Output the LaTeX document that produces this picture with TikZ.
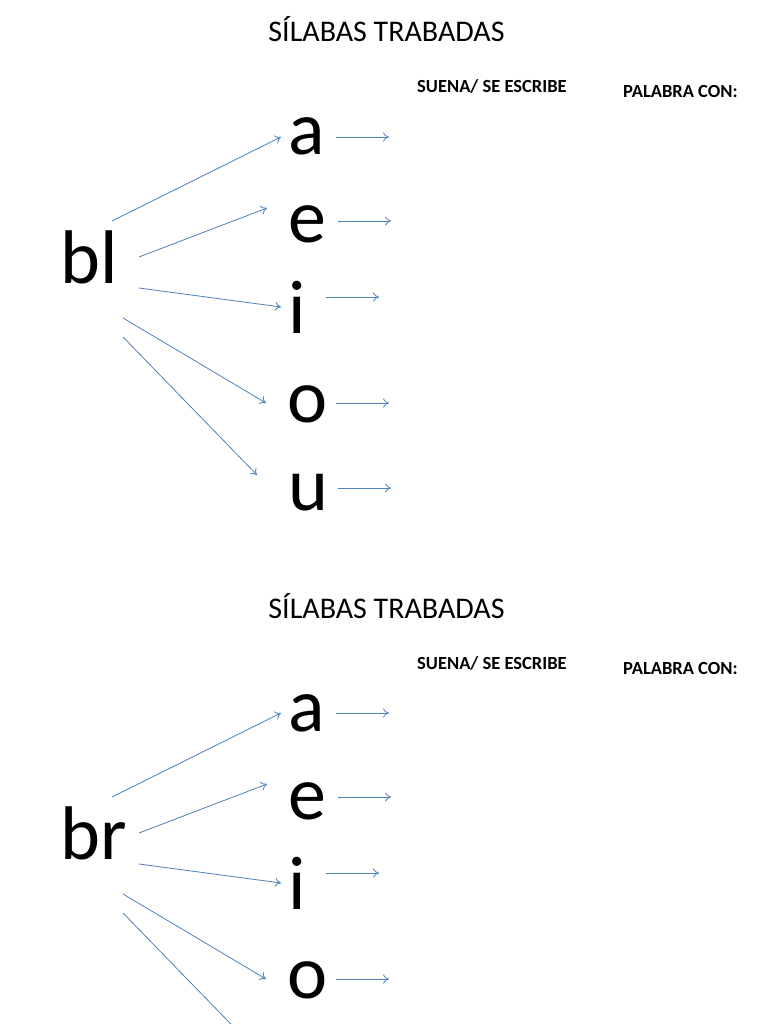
\documentclass[tikz,border=0pt]{standalone}
\usepackage{fontspec}
\setmainfont{Carlito}
\usetikzlibrary{arrows.meta}
\definecolor{arrblue}{RGB}{79,129,189}
\tikzset{
  ttl/.style={inner sep=0pt, anchor=base, font=\fontsize{30}{34}\selectfont},
  hdr/.style={inner sep=0pt, anchor=base west, font=\bfseries\fontsize{18.5}{22}\selectfont},
  big/.style={inner sep=0pt, anchor=base, font=\fontsize{76}{80}\selectfont},
  arr/.style={draw=arrblue, line width=0.8pt, -{To[length=6pt,width=9pt]}}
}
\newcommand\syllhead[2]{% #1 prefix, #2 consonant group
  \node[ttl] (#1t) at (386.5,42) {SÍLABAS TRABADAS};
  \node[hdr] (#1s) at (417,93) {SUENA/ SE ESCRIBE};
  \node[hdr] (#1p) at (623,98) {PALABRA CON:};
  \node[big, anchor=base west] (#1c) at (60,283) {#2};
  \node[big] (#1a) at (307,155) {a};
  \node[big] (#1e) at (307,243) {e};
  \node[big] (#1i) at (297,333) {i};
  \node[big] (#1o) at (308,422) {o};
  \draw[arr] ([shift={(52pt,62pt)}]#1c.base west) -- ([shift={(-26pt,18pt)}]#1a.base);
  \draw[arr] ([shift={(79pt,26pt)}]#1c.base west) -- ([shift={(-40pt,35pt)}]#1e.base);
  \draw[arr] ([shift={(79pt,-5pt)}]#1c.base west) -- ([shift={(-16pt,26pt)}]#1i.base);
  \draw[arr] ([shift={(63pt,-35pt)}]#1c.base west) -- ([shift={(-42pt,19pt)}]#1o.base);
  \draw[arr] ([shift={(29pt,18pt)}]#1a.base) -- ++(53pt,0pt);
  \draw[arr] ([shift={(31pt,22pt)}]#1e.base) -- ++(53pt,0pt);
  \draw[arr] ([shift={(29pt,36pt)}]#1i.base) -- ++(53pt,0pt);
  \draw[arr] ([shift={(28pt,19pt)}]#1o.base) -- ++(53pt,0pt);
}
\begin{document}
\begin{tikzpicture}[x=1pt,y=-1pt]
  \useasboundingbox (0,0) rectangle (768,1024);
  \fill[white] (0,0) rectangle (768,1024);
  \clip (0,0) rectangle (768,1024);
  % first block
  \syllhead{A}{bl}
  \node[big] (Au) at (308,510) {u};
  \draw[arr] ([shift={(63pt,-54pt)}]Ac.base west) -- ([shift={(-51pt,35pt)}]Au.base);
  \draw[arr] ([shift={(30pt,22pt)}]Au.base) -- ++(53pt,0pt);
  % second block
  \begin{scope}[yshift=-576pt]
    \syllhead{B}{br}
    \coordinate (Bu) at (308,510);
    \draw[arr] ([shift={(63pt,-54pt)}]Bc.base west) -- ([shift={(-51pt,35pt)}]Bu);
  \end{scope}
\end{tikzpicture}
\end{document}
